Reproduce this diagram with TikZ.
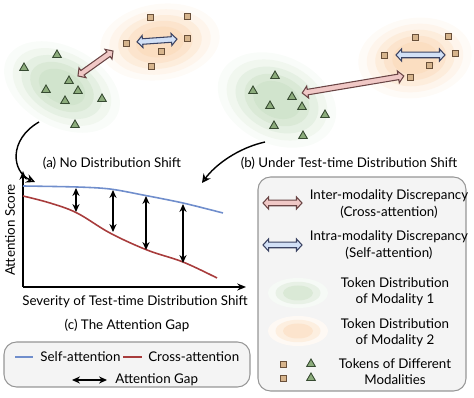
\documentclass[tikz,border=0pt]{standalone}
\usepackage{fontspec}
\setmainfont{Lato}
\usetikzlibrary{shapes.geometric,shapes.arrows,arrows.meta}
\definecolor{glowA}{RGB}{198,221,192}
\definecolor{glowB}{RGB}{250,214,178}
\definecolor{trifill}{RGB}{140,172,124}
\definecolor{tridraw}{RGB}{55,75,50}
\definecolor{sqfill}{RGB}{214,180,140}
\definecolor{sqdraw}{RGB}{105,80,58}
\definecolor{interfill}{RGB}{240,200,198}
\definecolor{interdraw}{RGB}{105,68,68}
\definecolor{intrafill}{RGB}{210,224,246}
\definecolor{intradraw}{RGB}{58,66,98}
\definecolor{selfline}{RGB}{112,142,204}
\definecolor{crossline}{RGB}{168,60,60}
\definecolor{boxfill}{RGB}{244,244,244}
\definecolor{boxdraw}{RGB}{150,150,150}
\tikzset{
  tri/.style={regular polygon, regular polygon sides=3, draw=tridraw, fill=trifill, line width=0.5pt, minimum size=0.2cm, inner sep=0pt},
  sq/.style={rectangle, draw=sqdraw, fill=sqfill, line width=0.5pt, minimum size=0.12cm, inner sep=0pt},
  gap/.style={double arrow, draw, line width=0.6pt, inner xsep=0pt, inner ysep=0.045cm, double arrow head extend=0.065cm, double arrow tip angle=95},
  inter/.style={gap, draw=interdraw, fill=interfill},
  intra/.style={gap, draw=intradraw, fill=intrafill},
  legbox/.style={draw=boxdraw, fill=boxfill, line width=0.6pt, rounded corners=0.25cm},
  lbl/.style={font=\fontsize{7.6}{9.2}\selectfont, inner sep=0pt},
  curvy/.style={line width=0.8pt, -{Stealth[open, length=5pt, width=5pt]}},
  axis/.style={line width=0.8pt, -{Stealth[length=5pt, width=4pt]}},
  gaparrow/.style={line width=0.8pt, {Stealth[length=4.5pt, width=4pt]}-{Stealth[length=4.5pt, width=4pt]}}
}
\begin{document}
\begin{tikzpicture}[x=0.02cm, y=-0.02cm]
\useasboundingbox (0,0) rectangle (474,398);
% glows (a)
\foreach \r/\c in {1/10, 0.85/25, 0.7/45, 0.55/65, 0.4/80} {
  \fill[glowA!\c!white, rotate around={-28:(62,87)}] (62,87) ellipse [x radius=62*\r, y radius=40*\r];
  \fill[glowB!\c!white, rotate around={8:(160,42)}] (160,42) ellipse [x radius=60*\r, y radius=38*\r];
}
% glows (b)
\foreach \r/\c in {1/10, 0.85/25, 0.7/45, 0.55/65, 0.4/80} {
  \fill[glowA!\c!white, rotate around={-25:(277,100)}] (277,100) ellipse [x radius=62*\r, y radius=44*\r];
  \fill[glowB!\c!white, rotate around={8:(415,58)}] (415,58) ellipse [x radius=57*\r, y radius=40*\r];
}
% tokens (a)
\foreach \p [count=\i] in {(57,55),(24,68),(69,81),(46,90),(78,91),(65,101),(102,99),(75,125)}
  \node[tri] (ta\i) at \p {};
\foreach \p [count=\i] in {(150,17),(187,16),(126,43),(187,38),(161,51),(151,66)}
  \node[sq] (sa\i) at \p {};
% tokens (b)
\foreach \p [count=\i] in {(275,76),(253,91),(292,97),(270,106),(302,107),(325,115),(274,126),(303,136)}
  \node[tri] (tb\i) at \p {};
\foreach \p [count=\i] in {(415,37),(448,36),(384,55),(455,53),(429,65),(410,77)}
  \node[sq] (sb\i) at \p {};
% discrepancies
\node[inter, minimum height=0.86cm, minimum width=0.22cm, rotate=35.5] (da) at (95.5,63.5) {};
\node[intra, minimum height=0.80cm, minimum width=0.22cm, rotate=4] (ia) at (157,40.5) {};
\node[inter, minimum height=2.06cm, minimum width=0.22cm, rotate=9.5] (db) at (353,84.5) {};
\node[intra, minimum height=0.98cm, minimum width=0.22cm] (ib) at (420.5,55) {};
% captions
\node[lbl] (capa) at (112,163) {(a) No Distribution Shift};
\node[lbl] (capb) at (349,163) {(b) Under Test-time Distribution Shift};
\coordinate (aout) at (39,122);
\coordinate (ain) at (35,182);
\coordinate (bout) at (265,142);
\coordinate (bin) at (202,183);
\draw[curvy] (aout) .. controls (8,140) and (12,172) .. (ain);
\draw[curvy] (bout) .. controls (238,148) and (215,165) .. (bin);
% attention gap plot
\coordinate (o) at (23,287);
\coordinate (ytop) at (23,171);
\coordinate (xend) at (246,287);
\draw[axis] (o) -- (ytop);
\draw[axis] (o) -- (xend);
\draw[selfline, line width=0.9pt] plot[smooth] coordinates {(23,186) (77,187) (110,189) (143,195) (183,203) (223,213)};
\draw[crossline, line width=0.9pt] plot[smooth, tension=0.6] coordinates {(23,196) (50,203) (77,213) (110,233) (147,250) (183,262) (217,278)};
\foreach \x/\t/\b [count=\i] in {76/188/212, 113/190/232, 146/196/250, 183/204/263} {
  \coordinate (g\i t) at (\x,\t);
  \coordinate (g\i b) at (\x,\b);
  \draw[gaparrow] (g\i t) -- (g\i b);
}
\node[lbl, rotate=90] (ylab) at (10,230) {Attention Score};
\node[lbl] (xlab) at (135,302) {Severity of Test-time Distribution Shift};
\node[lbl] (capc) at (127,325) {(c) The Attention Gap};
% legend (c)
\draw[legbox] (4,342) rectangle (250,387);
\coordinate (ls1) at (15,357); \coordinate (ls2) at (33,357);
\coordinate (lc1) at (123,357); \coordinate (lc2) at (142,357);
\coordinate (lg1) at (72,380); \coordinate (lg2) at (107,380);
\draw[selfline, line width=0.9pt] (ls1) -- (ls2);
\draw[crossline, line width=0.9pt] (lc1) -- (lc2);
\draw[gaparrow] (lg1) -- (lg2);
\node[lbl, anchor=west] (lself) at (40,357) {Self-attention};
\node[lbl, anchor=west] (lcross) at (148,357) {Cross-attention};
\node[lbl, anchor=west] (lgap) at (115,380) {Attention Gap};
% legend (right)
\draw[legbox] (258,177) rectangle (466,391);
\node[inter, minimum height=0.78cm, minimum width=0.22cm] (linter) at (282.5,203) {};
\node[intra, minimum height=0.78cm, minimum width=0.22cm] (lintra) at (282.5,245) {};
\node[lbl, align=center] (tinter) at (389,204) {Inter-modality Discrepancy\\(Cross-attention)};
\node[lbl, align=center] (tintra) at (389,245) {Intra-modality Discrepancy\\(Self-attention)};
\foreach \r/\c in {1/15, 0.75/40, 0.5/65} {
  \fill[glowA!\c!white] (298,293) ellipse [x radius=30*\r, y radius=15*\r];
  \fill[glowB!\c!white] (298,331) ellipse [x radius=30*\r, y radius=15*\r];
}
\node[lbl, align=center] (tmoda) at (395,292) {Token Distribution\\of Modality 1};
\node[lbl, align=center] (tmodb) at (395,333) {Token Distribution\\of Modality 2};
\node[sq] (lsq1) at (283,364) {};
\node[sq] (lsq2) at (283,378) {};
\node[tri] (ltri1) at (311,364) {};
\node[tri] (ltri2) at (311,378) {};
\node[lbl, align=center] (ttok) at (395,372) {Tokens of Different\\Modalities};
\end{tikzpicture}
\end{document}
